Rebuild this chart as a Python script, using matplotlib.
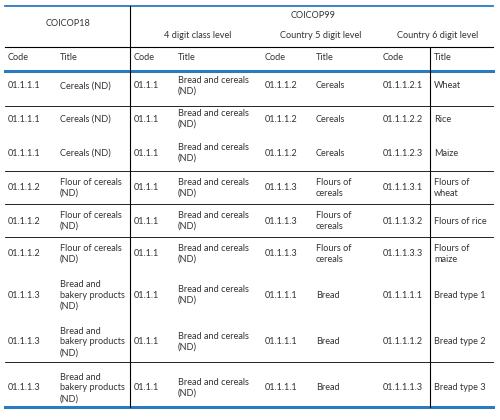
import matplotlib
matplotlib.use("Agg")
import matplotlib.pyplot as plt

plt.rcParams['font.family'] = ['Lato', 'DejaVu Sans']

col_heads = ["Code", "Title", "Code", "Title", "Code", "Title", "Code", "Title"]
group_top = ["COICOP18", "COICOP99"]
sub_heads = ["4 digit class level", "Country 5 digit level", "Country 6 digit level"]
c18_code = ["01.1.1.1"]*3 + ["01.1.1.2"]*3 + ["01.1.1.3"]*3
c18_title = ["Cereals (ND)"]*3 + ["Flour of cereals\n(ND)"]*3 + ["Bread and\nbakery products\n(ND)"]*3
c4_code = ["01.1.1"]*9
c4_title = ["Bread and cereals\n(ND)"]*9
c5_code = ["01.1.1.2"]*3 + ["01.1.1.3"]*3 + ["01.1.1.1"]*3
c5_title = ["Cereals"]*3 + ["Flours of\ncereals"]*3 + ["Bread"]*3
c6_code = ["01.1.1.2.1", "01.1.1.2.2", "01.1.1.2.3", "01.1.1.3.1", "01.1.1.3.2",
           "01.1.1.3.3", "01.1.1.1.1", "01.1.1.1.2", "01.1.1.1.3"]
c6_title = ["Wheat", "Rice", "Maize", "Flours of\nwheat", "Flours of rice",
            "Flours of\nmaize", "Bread type 1", "Bread type 2", "Bread type 3"]

fig = plt.figure(figsize=(5, 4.2), dpi=100)
ax = fig.add_axes([0, 0, 1, 1])
ax.set_xlim(0, 500); ax.set_ylim(420, 0); ax.axis('off')

tc = '#333333'; fs = 6.6; blue = '#2a7bc0'
col_x = [8, 60, 134, 178, 265, 316, 383, 434]
row_y = [86, 119, 153, 188, 221, 254, 295, 342, 388]

ax.plot([5, 493], [6, 6], color=blue, lw=1.3)
ax.plot([5, 493], [71, 71], color=blue, lw=2.2)
ax.plot([5, 493], [407, 407], color=blue, lw=2.2)
ax.plot([130, 493], [47, 47], color='black', lw=0.8)
ax.plot([5, 130], [47, 47], color='black', lw=0.8)
ax.plot([130, 130], [6, 407], color='black', lw=0.8)
ax.plot([430, 430], [47, 407], color='black', lw=0.8)
for y in [106, 171, 204, 237, 362]:
    ax.plot([5, 493], [y, y], color='black', lw=0.6)

ax.text(68, 24, group_top[0], ha='center', va='center', fontsize=fs, color=tc)
ax.text(313, 15, group_top[1], ha='center', va='center', fontsize=fs, color=tc)
for x, s in zip([198, 321, 438], sub_heads):
    ax.text(x, 35, s, ha='center', va='center', fontsize=fs, color=tc)
for x, s in zip(col_x, col_heads):
    ax.text(x, 57, s, ha='left', va='center', fontsize=fs, color=tc)

cols = [c18_code, c18_title, c4_code, c4_title, c5_code, c5_title, c6_code, c6_title]
for x, col in zip(col_x, cols):
    for y, s in zip(row_y, col):
        ax.text(x, y, s, ha='left', va='center', fontsize=fs, color=tc, linespacing=1.25)

fig.savefig("out.png", dpi=100)
